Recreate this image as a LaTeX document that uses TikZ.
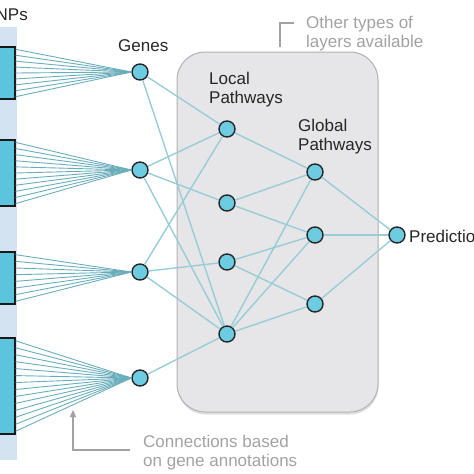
\documentclass[tikz,border=0pt]{standalone}
\usepackage{fontspec}
\setmainfont{Liberation Sans}
\usetikzlibrary{arrows.meta, calc, shadows}
\definecolor{nodeBlue}{HTML}{6CCCE2}
\definecolor{snpBlue}{HTML}{5CC4DD}
\definecolor{stripBlue}{HTML}{D3E3F2}
\definecolor{edgeBlue}{HTML}{98CDD8}
\definecolor{fanBlue}{HTML}{6AADBA}
\definecolor{boxGray}{HTML}{E6E5E7}
\definecolor{noteGray}{HTML}{A2A2A2}
\tikzstyle{pSnp} = [rectangle, draw=black!90, line width=1.3pt, fill=snpBlue, minimum width=21pt, inner sep=0pt]
\tikzstyle{pNeuron} = [circle, draw=black!85, line width=1.4pt, fill=nodeBlue, minimum size=16pt, inner sep=0pt]
\tikzstyle{pLayer} = [rectangle, rounded corners=28pt, draw=black!30, line width=1pt, fill=boxGray, drop shadow={opacity=0.25, shadow xshift=0.5pt, shadow yshift=-2.5pt}, minimum width=201pt, minimum height=360pt]
\tikzstyle{pLabel} = [font=\fontsize{17}{19}\selectfont, text=black!85, align=left, inner sep=0pt]
\tikzstyle{pNote} = [font=\fontsize{17}{19}\selectfont, text=noteGray, align=left, inner sep=0pt]
\tikzstyle{pEdge} = [draw=edgeBlue, line width=1.4pt]
\tikzstyle{pFan} = [draw=fanBlue, line width=0.9pt]
\tikzstyle{pArrow} = [draw=noteGray, line width=1.2pt]

\begin{document}
\begin{tikzpicture}[x=1pt, y=-1pt]
    \useasboundingbox (0,0) rectangle (474,474);
    % hidden layers and SNP strip
    \node (layers) [pLayer] at (277.5,232) {};
    \fill[stripBlue] (-5,27) rectangle (16.5,460);

    \node (snp1) [pSnp, minimum height=52pt] at (4.5,73) {};
    \node (snp2) [pSnp, minimum height=66pt] at (4.5,173) {};
    \node (snp3) [pSnp, minimum height=52pt] at (4.5,278) {};
    \node (snp4) [pSnp, minimum height=96pt] at (4.5,386) {};

    \node (gene1) [pNeuron] at (140,72) {};
    \node (gene2) [pNeuron] at (140,170) {};
    \node (gene3) [pNeuron] at (140,272) {};
    \node (gene4) [pNeuron] at (140,378) {};
    \node (loc1) [pNeuron] at (227,129) {};
    \node (loc2) [pNeuron] at (227,203) {};
    \node (loc3) [pNeuron] at (227,262) {};
    \node (loc4) [pNeuron] at (227,334) {};
    \node (glob1) [pNeuron] at (315,172) {};
    \node (glob2) [pNeuron] at (315,235) {};
    \node (glob3) [pNeuron] at (315,304) {};
    \node (pred) [pNeuron] at (397,235) {};

    \node (snpText) [pLabel, anchor=north east] at (28,8) {SNPs};
    \node (geneText) [pLabel, anchor=north west] at (118,39) {Genes};
    \node (locText) [pLabel, anchor=north west] at (209,72) {Local\\Pathways};
    \node (globText) [pLabel, anchor=north west] at (298,119) {Global\\Pathways};
    \node (predText) [pLabel, anchor=west] at (409,236) {Prediction};
    \node (otherText) [pNote, anchor=north west] at (306,16) {Other types of\\layers available};
    \node (connText) [pNote, anchor=north west] at (143,435) {Connections based\\on gene annotations};

    % SNP to gene connections
    \foreach \b/\g/\n in {snp1/gene1/9, snp2/gene2/11, snp3/gene3/8, snp4/gene4/14} {
        \foreach \i in {1,...,\n} {
            \pgfmathsetmacro\f{(\i-0.5)/\n}
            \draw [pFan] ($(\b.north east)!\f!(\b.south east)$) -- (\g.west);
        }
    }
    % sparse layer connections
    \foreach \a/\b in {gene1/loc1, gene1/loc4, gene2/loc1, gene2/loc2, gene2/loc4, gene3/loc1, gene3/loc3, gene3/loc4, gene4/loc4,
        loc1/glob1, loc2/glob1, loc2/glob2, loc3/glob2, loc3/glob3, loc4/glob1, loc4/glob2, loc4/glob3,
        glob1/pred, glob2/pred, glob3/pred}
        \draw [pEdge] (\a) -- (\b);

    % annotations
    \coordinate (otherA) at (280,47);
    \coordinate (otherB) at (294,23);
    \draw [pArrow] (otherA) |- (otherB);
    \coordinate (connA) at (130,450);
    \coordinate (connB) at (73,410);
    \draw [pArrow, -{Triangle[length=7pt, width=6pt]}] (connA) -| (connB);
\end{tikzpicture}
\end{document}
